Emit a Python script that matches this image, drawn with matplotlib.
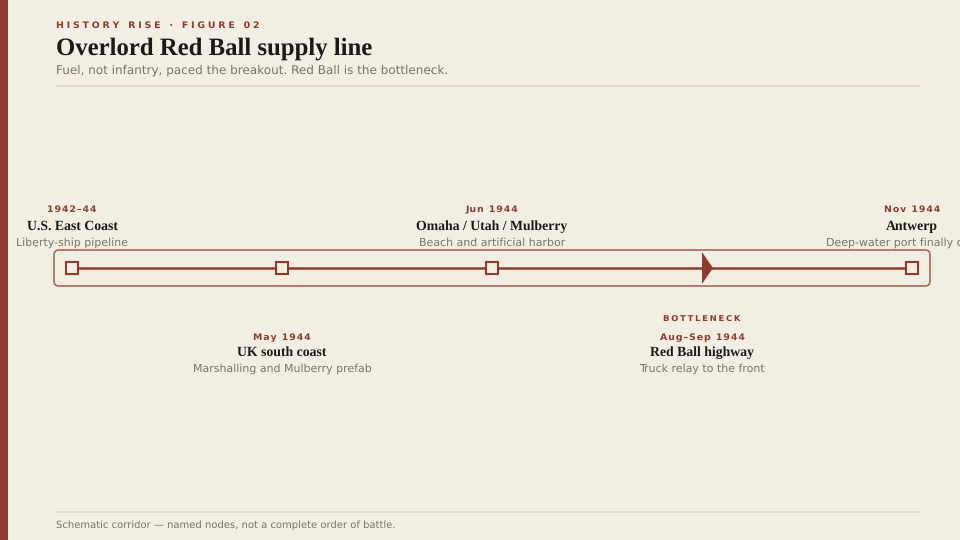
import matplotlib.pyplot as plt
from matplotlib.patches import FancyBboxPatch, Polygon, Rectangle

plt.rcParams['text.hinting'] = 'no_hinting'

BG = '#f3eee3'
RED = '#8f3b2e'
INK = '#1c1a17'
GREY = '#7a7468'
RULE = '#e4dccd'
SERIF = ['Liberation Serif', 'DejaVu Serif']

# stops along the corridor, in route order
dates = ['1942–44', 'May 1944', 'Jun 1944', 'Aug–Sep 1944', 'Nov 1944']
places = ['U.S. East Coast', 'UK south coast', 'Omaha / Utah / Mulberry',
          'Red Ball highway', 'Antwerp']
notes = ['Liberty-ship pipeline', 'Marshalling and Mulberry prefab',
         'Beach and artificial harbor', 'Truck relay to the front',
         'Deep-water port finally cleared']
stops = [0, 1, 2, 3, 4]
bottleneck_stop = 3


def spaced(s, n=1):
    # no letter-spacing in matplotlib, hair spaces get close
    return ('\u200a'*n).join(s)


fig = plt.figure(figsize=(9.6, 5.4), dpi=100, facecolor=BG)

# page axes in pixels, for the furniture
page = fig.add_axes([0, 0, 1, 1])
page.set_xlim(0, 960)
page.set_ylim(540, 0)
page.axis('off')

# route axes: x is the stop number, y stays in pixels
ax = fig.add_axes([0, 0, 1, 1])
ax.set_xlim(-72/210, 888/210)
ax.set_ylim(540, 0)
ax.axis('off')

page.add_patch(Rectangle((0, 0), 8, 540, fc=RED, ec='none'))
for y in [85, 511]:
    page.add_patch(Rectangle((56, y), 864, 2, fc=RULE, ec='none'))

page.text(56, 28, spaced('HISTORY RISE · FIGURE 02', 3), color=RED, fontsize=6.72,
          fontweight='bold', va='baseline', ha='left')
page.text(56, 54.5, 'Overlord Red Ball supply line', color=INK, fontsize=17.85,
          fontweight='bold', va='baseline', ha='left', family=SERIF)
page.text(56, 74, 'Fuel, not infantry, paced the breakout. Red Ball is the bottleneck.',
          color=GREY, fontsize=8.68, va='baseline', ha='left')
page.text(56, 528, 'Schematic corridor — named nodes, not a complete order of battle.',
          color=GREY, fontsize=7.2, va='baseline', ha='left')

# corridor box
page.add_patch(FancyBboxPatch((54, 250), 876, 36, boxstyle='round,pad=0,rounding_size=5',
                              fc='none', ec=RED, lw=1.1, alpha=0.8, zorder=1))

ax.plot(stops, [268]*len(stops), color=RED, lw=1.8, solid_capstyle='butt', zorder=2)

for s in stops:
    if s == bottleneck_stop:
        ax.add_patch(Polygon([(s, 252), (s+11/210, 268), (s, 284)], fc=RED, ec='none', zorder=3))
    else:
        ax.plot([s], [268], marker='s', ms=8.4, mfc=BG, mec=RED, mew=1.5, ls='none', zorder=3)

# labels alternate above and below the line
for s, d, p, n in zip(stops, dates, places, notes):
    top = s % 2 == 0
    y_date, y_place, y_note = (212, 230, 246) if top else (340, 356, 372)
    ax.text(s, y_date, spaced(d), color=RED, fontsize=6.75, fontweight='bold', ha='center', va='baseline')
    ax.text(s, y_place, p, color=INK, fontsize=9.9, fontweight='bold', ha='center', va='baseline', family=SERIF)
    ax.text(s, y_note, n, color=GREY, fontsize=7.92, ha='center', va='baseline')

ax.text(bottleneck_stop, 322, spaced('BOTTLENECK', 2), color=RED, fontsize=6.1, fontweight='bold',
        ha='center', va='baseline')

fig.savefig('out.png', dpi=100, facecolor=BG)
